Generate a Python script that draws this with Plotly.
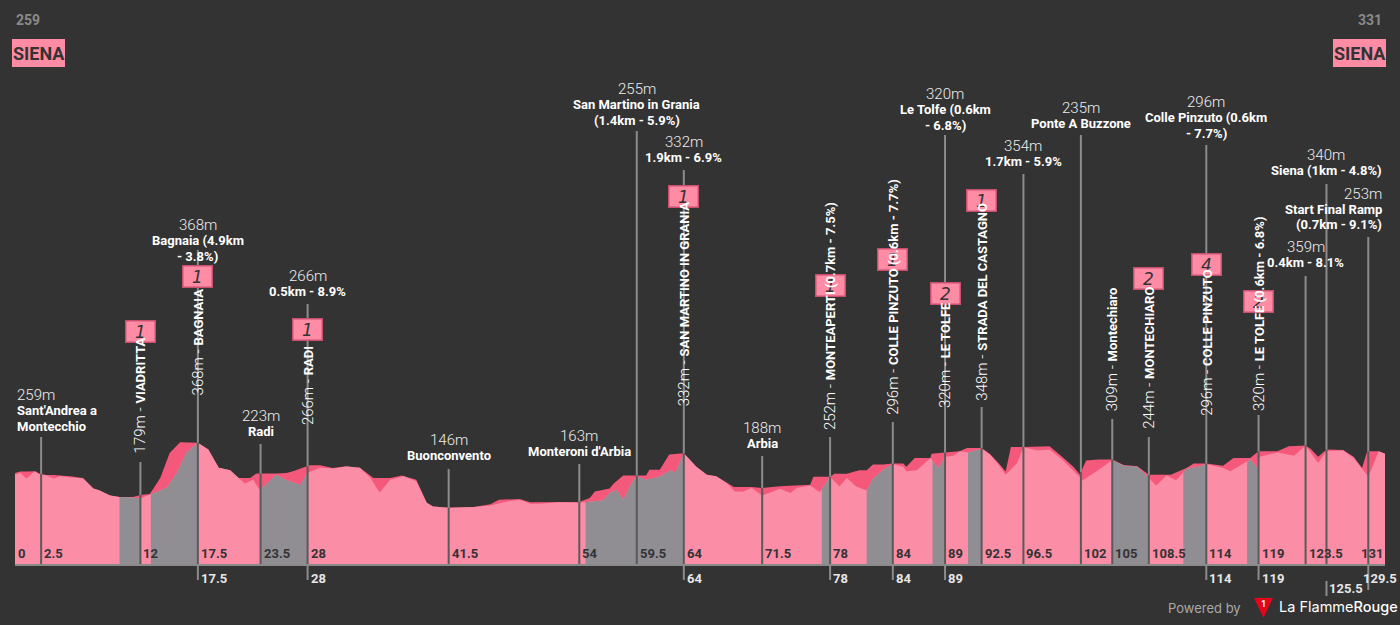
import plotly.graph_objects as go
import numpy as np

# ---------------- data ----------------
profile_km = [0.0, 0.5, 1.1, 1.9, 2.4, 3.0, 3.7, 4.3, 5.3, 6.5, 7.5, 8.1, 9.1, 10.0, 11.0, 12.0, 12.5,
              12.9, 14.5, 15.5, 16.4, 17.5, 18.5, 19.5, 20.6, 21.4, 22.0, 22.8, 23.4, 23.9, 25.0, 26.0,
              27.3, 28.0, 29.2, 30.5, 31.7, 33.0, 34.0, 34.9, 35.9, 37.2, 38.4, 39.4, 40.0, 41.5, 43.9,
              45.5, 47.1, 48.3, 49.3, 50.2, 52.2, 54.0, 55.0, 56.3, 56.9, 57.6, 58.2, 59.0, 59.5, 60.4,
              61.7, 62.7, 63.2, 64.0, 65.2, 66.2, 67.1, 68.1, 68.9, 69.7, 70.5, 71.5, 73.2, 74.2, 74.8,
              76.1, 77.0, 78.0, 78.9, 79.6, 80.5, 81.5, 82.1, 83.1, 84.0, 85.0, 85.3, 86.3, 87.6, 88.4,
              89.0, 89.8, 90.4, 91.2, 92.5, 93.3, 94.1, 94.8, 95.9, 96.5, 97.8, 99.0, 100.2, 101.3,
              101.9, 102.2, 103.7, 105.0, 106.1, 107.4, 108.5, 109.2, 110.2, 111.1, 112.1, 113.4, 114.0,
              115.6, 116.3, 117.6, 118.2, 118.9, 119.1, 120.8, 122.4, 123.5, 124.7, 125.5, 127.1, 128.1,
              128.9, 129.5, 129.9, 130.5, 131.1]
profile_elev = [259, 265, 246, 271, 259, 257, 246, 254, 250, 247, 212, 205, 188, 183, 181, 179, 186,
                191, 215, 266, 334, 368, 345, 283, 274, 249, 229, 242, 208, 222, 259, 240,
                225, 266, 283, 280, 287, 283, 249, 198, 242, 254, 237, 163, 151, 146, 149,
                154, 168, 174, 160, 160, 165, 163, 167, 172, 197, 208, 174, 231, 255, 242,
                252, 274, 267, 332, 286, 259, 254, 231, 202, 202, 214, 188, 211, 197, 214,
                222, 199, 252, 219, 248, 219, 205, 245, 276, 296, 286, 271, 274, 316, 282,
                320, 324, 339, 335, 348, 328, 294, 259, 299, 354, 342, 345, 311, 271,
                248, 240, 276, 309, 290, 286, 248, 222, 256, 240, 279, 288, 296,
                282, 271, 297, 311, 282, 320, 335, 324, 359, 299, 340, 342, 316,
                282, 253, 286, 339, 331]

envelope_km = [0.0, 0.5, 1.1, 1.9, 2.4, 3.0, 3.7, 4.3, 5.3, 6.5, 7.5, 8.1, 9.1, 10.0, 11.3, 12.0, 12.9,
               13.9, 14.8, 15.8, 17.5, 18.5, 19.5, 20.6, 21.2, 22.5, 23.1, 25.0, 26.0, 26.6, 28.2, 29.2,
               30.4, 31.7, 33.0, 34.3, 35.9, 37.0, 38.4, 39.4, 40.0, 41.5, 43.9, 45.5, 46.3, 48.3, 49.0,
               49.3, 52.2, 54.0, 55.0, 55.5, 56.9, 57.3, 58.2, 59.5, 60.4, 60.7, 61.7, 62.6, 64.0, 65.2,
               66.2, 67.1, 68.1, 68.8, 70.5, 71.5, 73.2, 74.2, 76.1, 76.4, 78.0, 78.4, 79.6, 80.8, 81.5,
               82.1, 83.1, 84.0, 85.0, 85.3, 86.1, 87.6, 87.7, 89.0, 90.4, 91.1, 92.5, 93.3, 94.1, 94.8,
               95.3, 96.5, 97.8, 99.0, 100.2, 101.3, 101.9, 102.5, 103.7, 105.0, 106.1, 107.4, 108.5,
               110.6, 112.1, 112.8, 114.0, 115.6, 116.6, 118.2, 119.0, 120.8, 121.9, 123.5, 124.0,
               124.7, 125.5, 127.1, 128.1, 128.9, 129.4, 130.5, 131.1]
envelope_elev = [265, 270, 270, 271, 262, 258, 258, 257, 254, 248, 212, 205, 188, 183, 183, 190, 193,
                 248, 333, 370, 368, 345, 283, 274, 248, 248, 263, 263, 265, 271, 291, 291,
                 282, 288, 283, 248, 248, 256, 242, 163, 151, 146, 149, 158, 174, 176, 170,
                 165, 166, 166, 180, 202, 212, 229, 256, 256, 256, 276, 276, 328, 332, 286,
                 259, 254, 231, 217, 217, 214, 220, 222, 225, 252, 252, 262, 262, 274, 274,
                 294, 294, 297, 297, 286, 316, 316, 331, 335, 339, 350, 350, 330, 300, 270,
                 354, 354, 356, 356, 320, 285, 260, 308, 311, 311, 292, 288, 259,
                 259, 282, 297, 297, 290, 316, 316, 339, 339, 356, 359, 347,
                 320, 345, 343, 320, 282, 339, 339, 331]

climb_start = [10.0, 13.0, 23.5, 54.6, 77.2, 81.5, 87.8, 91.2, 105.0, 111.8, 117.9]
climb_end = [12.0, 17.5, 28.0, 64.0, 78.0, 84.0, 89.0, 92.5, 108.5, 114.0, 119.0]

# waypoints with a vertical marker line
marker_km = [2.5, 12, 17.5, 23.5, 28, 41.5, 54, 59.5, 64, 71.5, 78, 84, 89, 92.5, 96.5, 102, 105,
             108.5, 114, 119, 123.5, 125.5, 129.5]

# horizontal labels: km, elevation, name lines
hlabel_km = [2.5, 17.5, 23.5, 28, 41.5, 54, 59.5, 64, 71.5, 89, 96.5, 102, 114, 123.5, 125.5, 129.5]
hlabel_elev = ["259m", "368m", "223m", "266m", "146m", "163m", "255m", "332m", "188m", "320m",
               "354m", "235m", "296m", "359m", "340m", "253m"]
hlabel_name = [["Sant'Andrea a", "Montecchio"], ["Bagnaia (4.9km", "- 3.8%)"], ["Radi"],
               ["0.5km - 8.9%"], ["Buonconvento"], ["Monteroni d'Arbia"],
               ["San Martino in Grania", "(1.4km - 5.9%)"], ["1.9km - 6.9%"], ["Arbia"],
               ["Le Tolfe (0.6km", "- 6.8%)"], ["1.7km - 5.9%"], ["Ponte A Buzzone"],
               ["Colle Pinzuto (0.6km", "- 7.7%)"], ["0.4km - 8.1%"], ["Siena (1km - 4.8%)"],
               ["Start Final Ramp", "(0.7km - 9.1%)"]]

# vertical (rotated) labels
vlabel_km = [12, 17.5, 28, 64, 78, 84, 89, 92.5, 105, 108.5, 114, 119]
vlabel_elev = ["179m", "368m", "266m", "332m", "252m", "296m", "320m", "348m", "309m", "244m",
               "296m", "320m"]
vlabel_name = ["VIADRITTA", "BAGNAIA", "RADI", "SAN MARTINO IN GRANIA", "MONTEAPERTI (0.7km - 7.5%)",
               "COLLE PINZUTO (0.6km - 7.7%)", "LE TOLFE", "STRADA DEL CASTAGNO", "Montechiaro",
               "MONTECHIARO", "COLLE PINZUTO", "LE TOLFE (0.6km - 6.8%)"]

# climb categories
badge_km = [12, 17.5, 28, 64, 78, 84, 89, 92.5, 108.5, 114, 119]
badge_cat = ["1", "1", "1", "1", "1", "1", "2", "1", "2", "4", "2"]

# distance labels
top_km = [0, 2.5, 12, 17.5, 23.5, 28, 41.5, 54, 59.5, 64, 71.5, 78, 84, 89, 92.5, 96.5, 102, 105,
          108.5, 114, 119, 123.5, 129.5]
top_km_text = ["0", "2.5", "12", "17.5", "23.5", "28", "41.5", "54", "59.5", "64", "71.5", "78",
               "84", "89", "92.5", "96.5", "102", "105", "108.5", "114", "119", "123.5", "131"]
bottom_km = [17.5, 28, 64, 78, 84, 89, 114, 119, 129.5]
bottom_km_text = ["17.5", "28", "64", "78", "84", "89", "114", "119", "129.5"]
extra_km = [125.5]
extra_km_text = ["125.5"]

start_name, start_elev = "SIENA", "259"
finish_name, finish_elev = "SIENA", "331"

# ---------------- layout helpers ----------------
W, H = 1400, 625
ML, MR, MT, MB = 15, 15, 0, 60
PW, PH = W - ML - MR, H - MT - MB
X_MAX = 131.1
Y_MIN, Y_MAX = -49, 1879

BG = "#333333"
PINK = "#FB8DA6"
DARK_PINK = "#F4587B"
GREY = "#908E93"
BOX_PINK = "#FF8BA5"
NARROW = "Liberation Sans Narrow, Arial Narrow, Roboto, sans-serif"
LIGHT = "Roboto, Lato, sans-serif"


def xp(km):
    return km / X_MAX


def xpx(p):
    return (p - ML) / PW


def ypx(p):
    return (H - MB - p) / PH


def ye(elev):
    return (elev - Y_MIN) / (Y_MAX - Y_MIN)


def env_at(km):
    return float(np.interp(km, envelope_km, envelope_elev))


fig = go.Figure()

# dark pink envelope
fig.add_trace(go.Scatter(x=envelope_km + [envelope_km[-1], envelope_km[0]],
                         y=envelope_elev + [Y_MIN, Y_MIN], fill="toself", fillcolor=DARK_PINK,
                         mode="lines", line=dict(width=0), hoverinfo="skip"))
# main profile
fig.add_trace(go.Scatter(x=profile_km + [profile_km[-1], profile_km[0]],
                         y=profile_elev + [Y_MIN, Y_MIN], fill="toself", fillcolor=PINK,
                         mode="lines", line=dict(width=0), hoverinfo="skip"))
# climb sections in grey
for a, b in zip(climb_start, climb_end):
    inner = [(k, e) for k, e in zip(profile_km, profile_elev) if a < k < b]
    xs = [a] + [k for k, _ in inner] + [b]
    ys = [float(np.interp(a, profile_km, profile_elev))] + [e for _, e in inner] + \
         [float(np.interp(b, profile_km, profile_elev))]
    fig.add_trace(go.Scatter(x=xs + [b, a], y=ys + [Y_MIN, Y_MIN], fill="toself", fillcolor=GREY,
                             mode="lines", line=dict(width=0), hoverinfo="skip"))

shapes = []
annotations = []

# marker line tops (pixel y)
line_top_px = dict(zip(marker_km, [437, 462, 250, 444, 304, 469, 464, 131, 170, 456, 437, 422, 135,
                                   407, 174, 135, 419, 437, 145, 415, 276, 184, 237]))
for km in marker_km:
    top_el = env_at(km)
    shapes.append(dict(type="line", xref="paper", yref="paper", x0=xp(km), x1=xp(km),
                       y0=0, y1=ye(top_el), line=dict(color="#5a5a5a", width=2), layer="above"))
    shapes.append(dict(type="line", xref="paper", yref="paper", x0=xp(km), x1=xp(km),
                       y0=ye(top_el), y1=ypx(line_top_px[km]), line=dict(color="#8c8c8c", width=2),
                       layer="above"))

# baseline
shapes.append(dict(type="line", xref="paper", yref="paper", x0=0, x1=1, y0=0, y1=0,
                   line=dict(color="#8a8a8a", width=2)))
# ticks below baseline
for km in bottom_km:
    shapes.append(dict(type="line", xref="paper", yref="paper", x0=xp(km), x1=xp(km),
                       y0=0, y1=ypx(580 if km != 129.5 else 590), line=dict(color="#8c8c8c", width=2)))
for km in extra_km:
    shapes.append(dict(type="line", xref="paper", yref="paper", x0=xp(km), x1=xp(km),
                       y0=ypx(581), y1=ypx(596), line=dict(color="#8c8c8c", width=2)))

# horizontal labels (pixel y of the elevation line)
hlabel_y = [395, 225, 416, 276, 440, 436, 89, 142, 428, 94, 146, 108, 102, 247, 155, 194]
for km, el, names, y0 in zip(hlabel_km, hlabel_elev, hlabel_name, hlabel_y):
    if km == 2.5:
        xx, anchor = xpx(15), "left"
    elif km == 129.5:
        xx, anchor = xpx(1384), "right"
    else:
        xx, anchor = xp(km), "center"
    annotations.append(dict(x=xx, y=ypx(y0), xref="paper", yref="paper", text=el, showarrow=False,
                            xanchor=anchor, yanchor="middle",
                            font=dict(family=LIGHT, size=15, color="#eeeeee", weight=300)))
    for i, nm in enumerate(names):
        annotations.append(dict(x=xx, y=ypx(y0 + 15.5 * (i + 1)), xref="paper", yref="paper",
                                text=nm, showarrow=False, xanchor=anchor, yanchor="middle",
                                font=dict(family=NARROW, size=13, color="#ffffff", weight="bold")))

# badges
badge_y = [332, 276, 329, 196, 285, 259, 293, 200, 278, 264, 301]
for km, cat, y0 in zip(badge_km, badge_cat, badge_y):
    annotations.append(dict(x=xp(km), y=ypx(y0), xref="paper", yref="paper",
                            text="<i>" + cat + "</i>", showarrow=False, xanchor="center",
                            yanchor="middle", bgcolor=BOX_PINK, bordercolor="#c9506e",
                            borderwidth=1.5, borderpad=1, width=26, height=18,
                            font=dict(family="DejaVu Sans, sans-serif", size=17, color="#333333")))

# vertical labels (pixel y of their bottom end)
vlabel_bottom = [455, 397, 427, 408, 432, 417, 410, 403, 413, 431, 418, 413]
for km, el, nm, yb in zip(vlabel_km, vlabel_elev, vlabel_name, vlabel_bottom):
    txt = ("<span style='font-family:Roboto;font-weight:300;font-size:15px'>" + el + " - </span>"
           "<b>" + nm + "</b>")
    annotations.append(dict(x=xp(km), y=ypx(yb), xref="paper", yref="paper", text=txt,
                            showarrow=False, textangle=-90, xanchor="center", yanchor="bottom",
                            font=dict(family=NARROW, size=13, color="#ffffff")))

# distance labels
for km, t in zip(top_km, top_km_text):
    last = km == top_km[-1]
    annotations.append(dict(x=1.0 if last else xp(km), y=ypx(553), xref="paper", yref="paper",
                            text=t, showarrow=False, xanchor="right" if last else "left",
                            yanchor="middle", xshift=0 if last else 1,
                            font=dict(family=NARROW, size=13, color="#333333", weight="bold")))
for km, t in zip(bottom_km, bottom_km_text):
    last = km == bottom_km[-1]
    annotations.append(dict(x=xpx(1399) if last else xp(km), y=ypx(578), xref="paper",
                            yref="paper", text=t, showarrow=False,
                            xanchor="right" if last else "left", yanchor="middle",
                            xshift=0 if last else 1,
                            font=dict(family=NARROW, size=13, color="#e6e6e6", weight="bold")))
for km, t in zip(extra_km, extra_km_text):
    annotations.append(dict(x=xp(km), y=ypx(588), xref="paper", yref="paper", text=t,
                            showarrow=False, xanchor="left", yanchor="middle", xshift=1,
                            font=dict(family=NARROW, size=13, color="#e6e6e6", weight="bold")))

# start / finish boxes
shapes.append(dict(type="rect", xref="paper", yref="paper", x0=xpx(12), x1=xpx(65),
                   y0=ypx(67), y1=ypx(39), fillcolor=BOX_PINK, line=dict(width=0)))
shapes.append(dict(type="rect", xref="paper", yref="paper", x0=xpx(1333), x1=xpx(1386),
                   y0=ypx(67), y1=ypx(39), fillcolor=BOX_PINK, line=dict(width=0)))
annotations.append(dict(x=xpx(38.5), y=ypx(53), xref="paper", yref="paper", text=start_name,
                        showarrow=False, xanchor="center", yanchor="middle",
                        font=dict(family=NARROW, size=18, color="#333333", weight="bold")))
annotations.append(dict(x=xpx(1359.5), y=ypx(53), xref="paper", yref="paper", text=finish_name,
                        showarrow=False, xanchor="center", yanchor="middle",
                        font=dict(family=NARROW, size=18, color="#333333", weight="bold")))
annotations.append(dict(x=xpx(14), y=ypx(20), xref="paper", yref="paper", text=start_elev,
                        showarrow=False, xanchor="left", yanchor="middle",
                        font=dict(family=NARROW, size=14, color="#8a8a8a", weight="bold")))
annotations.append(dict(x=xpx(1384), y=ypx(20), xref="paper", yref="paper", text=finish_elev,
                        showarrow=False, xanchor="right", yanchor="middle",
                        font=dict(family=NARROW, size=14, color="#8a8a8a", weight="bold")))

# footer logo
annotations.append(dict(x=xpx(1243), y=ypx(608), xref="paper", yref="paper", text="Powered by",
                        showarrow=False, xanchor="right", yanchor="middle",
                        font=dict(family="Inter, Roboto, sans-serif", size=13, color="#aaaaaa")))
tri = "M {} {} L {} {} L {} {} Z".format(xpx(1254), ypx(598), xpx(1273), ypx(598),
                                        xpx(1263.5), ypx(618))
shapes.append(dict(type="path", xref="paper", yref="paper", path=tri, fillcolor="#e3051b",
                   line=dict(width=0)))
annotations.append(dict(x=xpx(1263.5), y=ypx(604), xref="paper", yref="paper", text="<b>1</b>",
                        showarrow=False, xanchor="center", yanchor="middle",
                        font=dict(family="Roboto, sans-serif", size=9, color="#ffffff")))
annotations.append(dict(x=xpx(1277), y=ypx(607), xref="paper", yref="paper",
                        text="La Flamme<span style='font-weight:500'>Rouge</span>", showarrow=False,
                        xanchor="left", yanchor="middle",
                        font=dict(family="Inter, Roboto, sans-serif", size=14.5, color="#ffffff")))

fig.update_layout(
    width=W, height=H, margin=dict(l=ML, r=MR, t=MT, b=MB, pad=0),
    paper_bgcolor=BG, plot_bgcolor=BG, showlegend=False,
    xaxis=dict(range=[0, X_MAX], visible=False, fixedrange=True),
    yaxis=dict(range=[Y_MIN, Y_MAX], visible=False, fixedrange=True),
    shapes=shapes, annotations=annotations,
)

fig.write_html("out.html", config={"displayModeBar": False},
               post_script="document.body.style.margin='0';document.body.style.background='#333333';")
